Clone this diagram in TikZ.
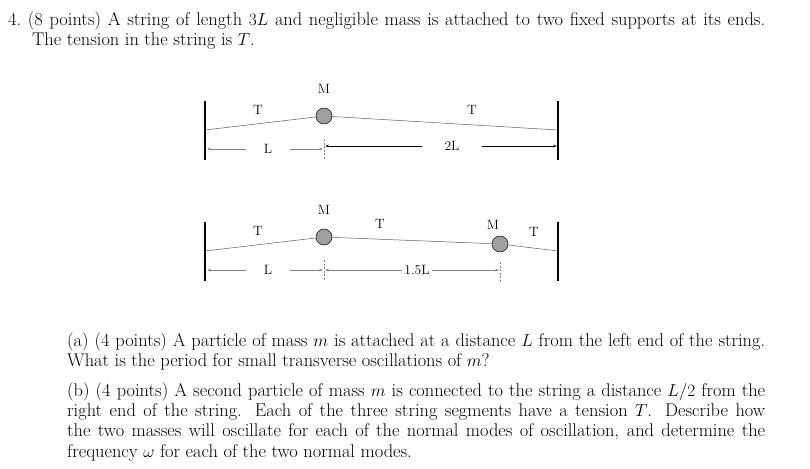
\documentclass[tikz,border=0pt]{standalone}
\usetikzlibrary{arrows.meta}
\begin{document}
\begin{tikzpicture}[x=1pt,y=-1pt,
  txt/.style={anchor=base west,inner sep=0pt,font=\fontsize{18.4}{20}\selectfont},
  lab/.style={inner sep=0pt,font=\fontsize{13.5}{14}\selectfont},
  wall/.style={line width=2.2pt},
  str/.style={line width=0.5pt,gray!70!black},
  mass/.style={circle,draw=black,fill=gray!75,minimum size=16pt,inner sep=0pt,line width=0.5pt},
  dim/.style={line width=0.6pt,-{Stealth[length=4pt,width=2.5pt]}},
  gdim/.style={line width=0.5pt,gray,-{Stealth[length=4pt,width=2.5pt]}},
  vd/.style={gray,line width=0.4pt,dash pattern=on 2pt off 1.5pt}]
\useasboundingbox (0,0) rectangle (810,468);
% text
\node[txt] (t1) at (8,26) {\makebox[757pt][s]{4.\ (8 points) A string of length $3L$ and negligible mass is attached to two fixed supports at its ends.}};
\node[txt] (t2) at (32,46) {The tension in the string is $T$.};
\node[txt] (a1) at (67,346) {\makebox[698pt][s]{(a) (4 points) A particle of mass $m$ is attached at a distance $L$ from the left end of the string.}};
\node[txt] (a2) at (67,366) {What is the period for small transverse oscillations of $m$?};
\node[txt] (b1) at (67,396) {\makebox[698pt][s]{(b) (4 points) A second particle of mass $m$ is connected to the string a distance $L/2$ from the}};
\node[txt] (b2) at (67,416) {\makebox[698pt][s]{right end of the string. Each of the three string segments have a tension $T$. Describe how}};
\node[txt] (b3) at (67,436) {\makebox[698pt][s]{the two masses will oscillate for each of the normal modes of oscillation, and determine the}};
\node[txt] (b4) at (67,457) {frequency $\omega$ for each of the two normal modes.};
% top diagram
\coordinate (lw1) at (205,101); \coordinate (lw2) at (205,160);
\coordinate (rw1) at (558,101); \coordinate (rw2) at (558,160);
\draw[wall] (lw1) -- (lw2); \draw[wall] (rw1) -- (rw2);
\coordinate (ls) at (205,130); \coordinate (rs) at (558,130);
\node[mass] (m1) at (324,116) {};
\draw[str] (ls) -- (m1); \draw[str] (m1) -- (rs);
\node[lab] (M1) at (324,89) {M};
\node[lab] (T1) at (258,110) {T};
\node[lab] (T2) at (472,110) {T};
\coordinate (v1a) at (324,139); \coordinate (v1b) at (324,160);
\draw[vd] (v1a) -- (v1b);
\node[lab] (L1) at (268,149) {L};
\coordinate (d1l) at (207,149); \coordinate (d1r) at (323,149);
\draw[gdim] (L1.west) ++(-18,0) -- (d1l);
\draw[gdim] (L1.east) ++(18,0) -- (d1r);
\node[lab] (D2) at (452,146) {2L};
\coordinate (d2l) at (325,146); \coordinate (d2r) at (557,146);
\draw[dim] (D2.west) ++(-22,0) -- (d2l);
\draw[dim] (D2.east) ++(22,0) -- (d2r);
% bottom diagram
\coordinate (blw1) at (205,222); \coordinate (blw2) at (205,281);
\coordinate (brw1) at (558,222); \coordinate (brw2) at (558,281);
\draw[wall] (blw1) -- (blw2); \draw[wall] (brw1) -- (brw2);
\coordinate (bls) at (205,251); \coordinate (brs) at (558,251);
\node[mass] (m2) at (324,237) {};
\node[mass] (m3) at (500,244) {};
\draw[str] (bls) -- (m2); \draw[str] (m2) -- (m3); \draw[str] (m3) -- (brs);
\node[lab] (M2) at (324,210) {M};
\node[lab] (M3) at (493,225) {M};
\node[lab] (T3) at (258,231) {T};
\node[lab] (T4) at (380,224) {T};
\node[lab] (T5) at (534,232) {T};
\coordinate (v2a) at (324,260); \coordinate (v2b) at (324,281);
\draw[vd] (v2a) -- (v2b);
\coordinate (v3a) at (500,262); \coordinate (v3b) at (500,283);
\draw[vd] (v3a) -- (v3b);
\node[lab] (L2) at (268,270) {L};
\coordinate (e1l) at (207,270); \coordinate (e1r) at (323,270);
\draw[gdim] (L2.west) ++(-18,0) -- (e1l);
\draw[gdim] (L2.east) ++(18,0) -- (e1r);
\node[lab] (D3) at (417,270) {1.5L};
\coordinate (e2l) at (325,270); \coordinate (e2r) at (499,270);
\draw[gdim] (D3.west) ++(-2,0) -- (e2l);
\draw[gdim] (D3.east) ++(2,0) -- (e2r);
\end{tikzpicture}
\end{document}
